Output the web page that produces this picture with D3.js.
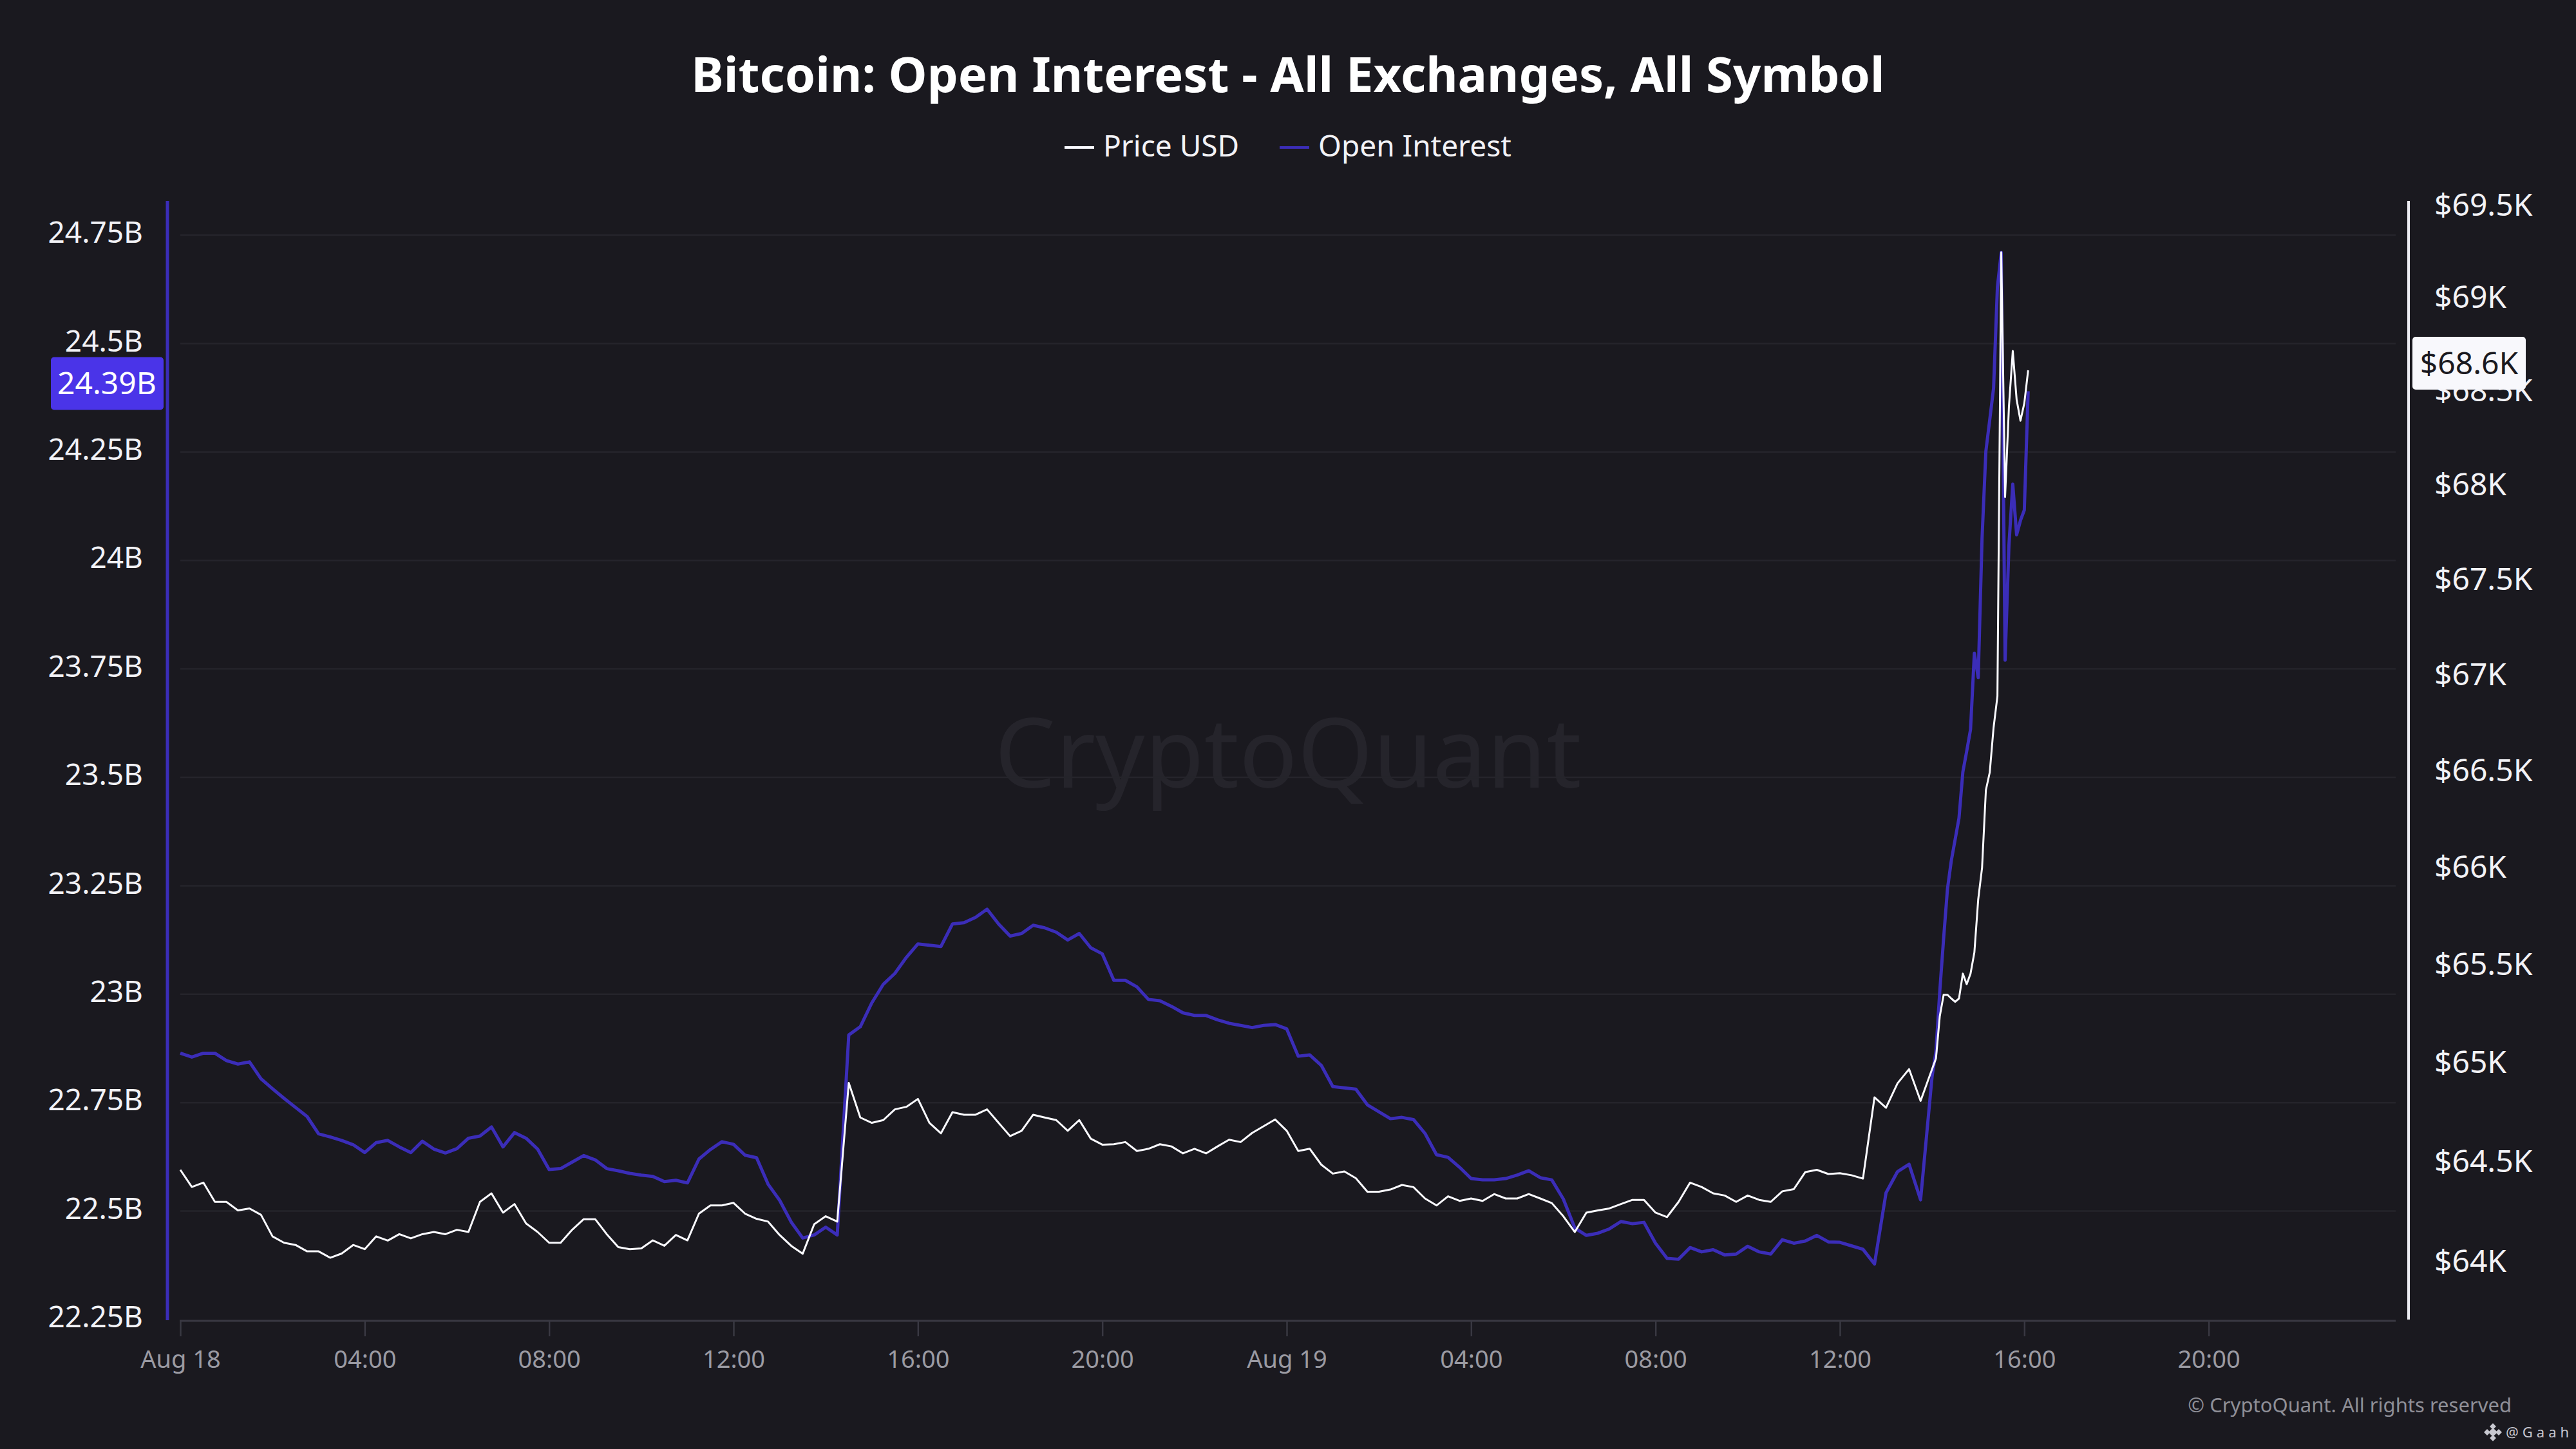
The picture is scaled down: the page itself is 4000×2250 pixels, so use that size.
<!DOCTYPE html>
<html>
<head>
<meta charset="utf-8">
<script src="https://cdn.jsdelivr.net/npm/d3@7/dist/d3.min.js"></script>
<style>
  html, body { margin: 0; padding: 0; background: #1a191f; }
  svg { display: block; font-family: "Noto Sans", sans-serif; }
</style>
</head>
<body>
<svg id="chart" width="4000" height="2250"></svg>
<script>
var title = 'Bitcoin: Open Interest - All Exchanges, All Symbol';
var seriesNames = ['Price USD', 'Open Interest'];

// open interest axis (billions) and price axis (thousands of USD)
var oiTicks = [22.25, 22.5, 22.75, 23, 23.25, 23.5, 23.75, 24, 24.25, 24.5, 24.75];
var priceTicks = [64, 64.5, 65, 65.5, 66, 66.5, 67, 67.5, 68, 68.5, 69, 69.5];

// 15 minute samples, Aug 18 00:00 -> Aug 19 14:00
var coarseStart = Date.UTC(2024, 7, 18, 0, 0);
var coarseStop = Date.UTC(2024, 7, 19, 14, 0);
// 5 minute samples, Aug 19 14:05 -> 16:05
var fineStart = Date.UTC(2024, 7, 19, 14, 5);
var fineStop = Date.UTC(2024, 7, 19, 16, 5);

var oiCoarse = [
  22.864, 22.855, 22.864, 22.864, 22.847, 22.839, 22.844, 22.805,
  22.782, 22.760, 22.739, 22.718, 22.678, 22.671, 22.663, 22.653,
  22.635, 22.658, 22.663, 22.648, 22.635, 22.661, 22.643, 22.634,
  22.644, 22.668, 22.673, 22.694, 22.648, 22.681, 22.668, 22.643,
  22.596, 22.598, 22.613, 22.628, 22.618, 22.598, 22.593, 22.587,
  22.583, 22.580, 22.568, 22.571, 22.565, 22.620, 22.642, 22.660,
  22.654, 22.629, 22.623, 22.562, 22.525, 22.475, 22.438, 22.445,
  22.463, 22.445, 22.906, 22.925, 22.980, 23.023, 23.048, 23.085,
  23.116, 23.113, 23.110, 23.162, 23.165, 23.177, 23.196, 23.162,
  23.134, 23.140, 23.159, 23.153, 23.143, 23.125, 23.140, 23.107,
  23.093, 23.032, 23.032, 23.017, 22.988, 22.985, 22.972, 22.957,
  22.951, 22.951, 22.941, 22.933, 22.928, 22.923, 22.928, 22.930,
  22.920, 22.857, 22.860, 22.836, 22.787, 22.784, 22.781, 22.745,
  22.729, 22.713, 22.716, 22.711, 22.679, 22.630, 22.624, 22.601,
  22.575, 22.572, 22.572, 22.575, 22.583, 22.593, 22.577, 22.572,
  22.528, 22.461, 22.444, 22.449, 22.459, 22.476, 22.471, 22.474,
  22.426, 22.391, 22.389, 22.416, 22.406, 22.411, 22.399, 22.401,
  22.419, 22.406, 22.401, 22.434, 22.426, 22.431, 22.444, 22.429,
  22.428, 22.420, 22.412, 22.378, 22.542, 22.591, 22.608, 22.526,
  22.811
];
var oiFine = [
  22.868, 23.007, 23.129, 23.243, 23.308, 23.357, 23.406, 23.512,
  23.560, 23.610, 23.786, 23.730, 24.051, 24.252, 24.324, 24.397,
  24.630, 24.710, 23.770, 24.035, 24.176, 24.059, 24.092, 24.116,
  24.390
];

var priceCoarse = [
  64.473, 64.387, 64.409, 64.312, 64.312, 64.269, 64.279, 64.247,
  64.139, 64.107, 64.096, 64.064, 64.064, 64.032, 64.053, 64.096,
  64.075, 64.139, 64.118, 64.150, 64.129, 64.150, 64.161, 64.150,
  64.172, 64.161, 64.312, 64.355, 64.258, 64.301, 64.204, 64.161,
  64.107, 64.107, 64.172, 64.225, 64.225, 64.150, 64.085, 64.075,
  64.079, 64.119, 64.092, 64.146, 64.119, 64.253, 64.294, 64.294,
  64.307, 64.253, 64.227, 64.213, 64.146, 64.092, 64.052, 64.200,
  64.240, 64.213, 64.912, 64.737, 64.710, 64.724, 64.778, 64.791,
  64.831, 64.710, 64.657, 64.764, 64.751, 64.751, 64.778, 64.710,
  64.643, 64.670, 64.751, 64.737, 64.724, 64.670, 64.724, 64.630,
  64.600, 64.602, 64.613, 64.568, 64.579, 64.602, 64.591, 64.556,
  64.579, 64.556, 64.591, 64.625, 64.613, 64.659, 64.693, 64.727,
  64.670, 64.568, 64.579, 64.499, 64.454, 64.465, 64.431, 64.363,
  64.363, 64.374, 64.397, 64.386, 64.329, 64.294, 64.340, 64.317,
  64.329, 64.317, 64.351, 64.329, 64.329, 64.351, 64.329, 64.306,
  64.240, 64.161, 64.258, 64.269, 64.279, 64.301, 64.322, 64.322,
  64.258, 64.236, 64.312, 64.409, 64.387, 64.355, 64.344, 64.312,
  64.344, 64.322, 64.312, 64.365, 64.376, 64.462, 64.473, 64.452,
  64.456, 64.446, 64.429, 64.839, 64.786, 64.910, 64.982, 64.821,
  64.982
];
var priceFine = [
  65.036, 65.251, 65.360, 65.360, 65.341, 65.324, 65.341, 65.468,
  65.414, 65.468, 65.576, 65.848, 66.011, 66.413, 66.504, 66.737,
  66.901, 69.260, 67.950, 68.431, 68.729, 68.468, 68.356, 68.449,
  68.625
];

var times = d3.utcMinutes(new Date(coarseStart), new Date(coarseStop + 1), 15)
  .concat(d3.utcMinutes(new Date(fineStart), new Date(fineStop + 1), 5));
var oiValues = oiCoarse.concat(oiFine);
var priceValues = priceCoarse.concat(priceFine);

var oiData = times.map(function(t, i) { return { t: t, v: oiValues[i] }; });
var priceData = times.map(function(t, i) { return { t: t, v: priceValues[i] }; });

var colors = {
  bg: '#1a191f',
  grid: '#25242b',
  axis: '#393842',
  oi: '#3b2db8',
  oiBadge: '#4a34e8',
  price: '#fafaff',
  text: '#f2f2f6',
  muted: '#9a9aa2'
};

var plot = { left: 260, right: 3740, top: 312, bottom: 2050 };

var svg = d3.select('#chart');
svg.append('rect').attr('width', 4000).attr('height', 2250).attr('fill', colors.bg);

var x = d3.scaleUtc()
  .domain([new Date(Date.UTC(2024, 7, 18, 0)), new Date(Date.UTC(2024, 7, 20, 0))])
  .range([280, 3716]);
var yOI = d3.scaleLinear().domain([22.25, 24.75]).range([2049, 365]);
var yPrice = d3.scaleLog().domain([64, 69.5]).range([1963, 323]);

// title and legend
svg.append('text')
  .attr('x', 2000).attr('y', 143)
  .attr('text-anchor', 'middle')
  .attr('font-size', 76).attr('font-weight', 700)
  .attr('fill', '#ffffff')
  .text(title);

var legend = svg.append('g').attr('class', 'legend');
var legendItems = [
  { name: seriesNames[0], color: colors.price, x: 1653 },
  { name: seriesNames[1], color: colors.oi, x: 1987 }
];
legendItems.forEach(function(item) {
  legend.append('line')
    .attr('x1', item.x).attr('x2', item.x + 46)
    .attr('y1', 229).attr('y2', 229)
    .attr('stroke', item.color).attr('stroke-width', 4);
  legend.append('text')
    .attr('x', item.x + 60).attr('y', 243)
    .attr('font-size', 46).attr('fill', colors.text)
    .text(item.name);
});

// watermark
svg.append('text')
  .attr('x', 2000).attr('y', 1223)
  .attr('text-anchor', 'middle')
  .attr('font-size', 150)
  .attr('fill', '#25242b')
  .text('CryptoQuant');

// grid lines for the open interest axis
svg.append('g').attr('class', 'grid')
  .selectAll('line')
  .data(oiTicks.slice(1))
  .enter().append('line')
  .attr('x1', 280).attr('x2', 3720)
  .attr('y1', function(d) { return yOI(d); })
  .attr('y2', function(d) { return yOI(d); })
  .attr('stroke', colors.grid).attr('stroke-width', 2.5);

// bottom time axis
var timeTicks = d3.utcHours(new Date(Date.UTC(2024, 7, 18, 0)), new Date(Date.UTC(2024, 7, 19, 21)), 4);
var fmtDay = d3.utcFormat('%b %d');
var fmtHour = d3.utcFormat('%H:%M');
var xAxis = d3.axisBottom(x)
  .tickValues(timeTicks)
  .tickSize(24)
  .tickPadding(22)
  .tickFormat(function(d) { return d.getUTCHours() === 0 ? fmtDay(d) : fmtHour(d); });
var xg = svg.append('g').attr('transform', 'translate(0,2051)').call(xAxis);
xg.select('.domain').remove();
xg.append('line')
  .attr('x1', 279).attr('x2', 3720).attr('y1', 0).attr('y2', 0)
  .attr('stroke', colors.axis).attr('stroke-width', 3);
xg.selectAll('.tick line').attr('stroke', colors.axis).attr('stroke-width', 2.5);
xg.selectAll('.tick text')
  .attr('font-size', 38).attr('fill', colors.muted)
  .attr('font-family', '"Noto Sans", sans-serif');

// left axis (open interest)
svg.append('line')
  .attr('x1', plot.left).attr('x2', plot.left)
  .attr('y1', plot.top).attr('y2', plot.bottom)
  .attr('stroke', colors.oi).attr('stroke-width', 5);
svg.append('g').attr('class', 'y-left')
  .selectAll('text')
  .data(oiTicks)
  .enter().append('text')
  .attr('x', 222)
  .attr('y', function(d) { return yOI(d) - 4; })
  .attr('dy', '0.35em')
  .attr('text-anchor', 'end')
  .attr('font-size', 46).attr('fill', colors.text)
  .text(function(d) { return (+d.toFixed(2)) + 'B'; });

// right axis (price, log scale)
svg.append('line')
  .attr('x1', plot.right).attr('x2', plot.right)
  .attr('y1', plot.top).attr('y2', 2049)
  .attr('stroke', '#ececf2').attr('stroke-width', 4);
svg.append('g').attr('class', 'y-right')
  .selectAll('text')
  .data(priceTicks)
  .enter().append('text')
  .attr('x', 3780)
  .attr('y', function(d) { return yPrice(d) - 5; })
  .attr('dy', '0.35em')
  .attr('font-size', 48).attr('fill', colors.text)
  .text(function(d) { return '$' + (+d.toFixed(1)) + 'K'; });

// series
var oiLine = d3.line()
  .x(function(d) { return x(d.t); })
  .y(function(d) { return yOI(d.v); });
var priceLine = d3.line()
  .x(function(d) { return x(d.t); })
  .y(function(d) { return yPrice(d.v); });

svg.append('path')
  .datum(oiData)
  .attr('d', oiLine)
  .attr('fill', 'none')
  .attr('stroke', colors.oi).attr('stroke-width', 5)
  .attr('stroke-linejoin', 'round');

svg.append('path')
  .datum(priceData)
  .attr('d', priceLine)
  .attr('fill', 'none')
  .attr('stroke', colors.price).attr('stroke-width', 3)
  .attr('stroke-linejoin', 'round');

// last value badges
var lastOI = oiValues[oiValues.length - 1];
var lastPrice = priceValues[priceValues.length - 1];

var oiBadgeY = yOI(lastOI) - 12;
svg.append('rect')
  .attr('x', 79).attr('y', oiBadgeY - 41)
  .attr('width', 175).attr('height', 82)
  .attr('rx', 5)
  .attr('fill', colors.oiBadge);
svg.append('text')
  .attr('x', 166).attr('y', oiBadgeY)
  .attr('dy', '0.35em')
  .attr('text-anchor', 'middle')
  .attr('font-size', 48).attr('fill', '#ffffff')
  .text(lastOI.toFixed(2) + 'B');

// the price badge sits over the $68.5K tick label, as in the source chart
var priceBadgeY = yPrice(lastPrice) - 11;
svg.append('rect')
  .attr('x', 3746).attr('y', priceBadgeY - 41)
  .attr('width', 176).attr('height', 82)
  .attr('rx', 5)
  .attr('fill', '#f8f8fc');
svg.append('text')
  .attr('x', 3834).attr('y', priceBadgeY)
  .attr('dy', '0.35em')
  .attr('text-anchor', 'middle')
  .attr('font-size', 48).attr('fill', '#1a191f')
  .text('$' + lastPrice.toFixed(1) + 'K');

// footer
svg.append('text')
  .attr('x', 3900).attr('y', 2193)
  .attr('text-anchor', 'end')
  .attr('font-size', 31).attr('fill', '#8f8f97')
  .text('\u00A9 CryptoQuant. All rights reserved');

var logo = svg.append('g').attr('transform', 'translate(3871,2224)').attr('fill', '#c8c8d0');
[[0, 0, 5], [0, -9, 3.5], [9, 0, 3.5], [0, 9, 3.5], [-9, 0, 3.5]].forEach(function(s) {
  logo.append('rect')
    .attr('x', s[0] - s[2]).attr('y', s[1] - s[2])
    .attr('width', s[2] * 2).attr('height', s[2] * 2)
    .attr('transform', 'rotate(45,' + s[0] + ',' + s[1] + ')');
});
svg.append('text')
  .attr('x', 3891).attr('y', 2232)
  .attr('font-size', 22).attr('letter-spacing', 6)
  .attr('fill', '#c8c8d0')
  .text('@Gaah');
</script>
</body>
</html>
